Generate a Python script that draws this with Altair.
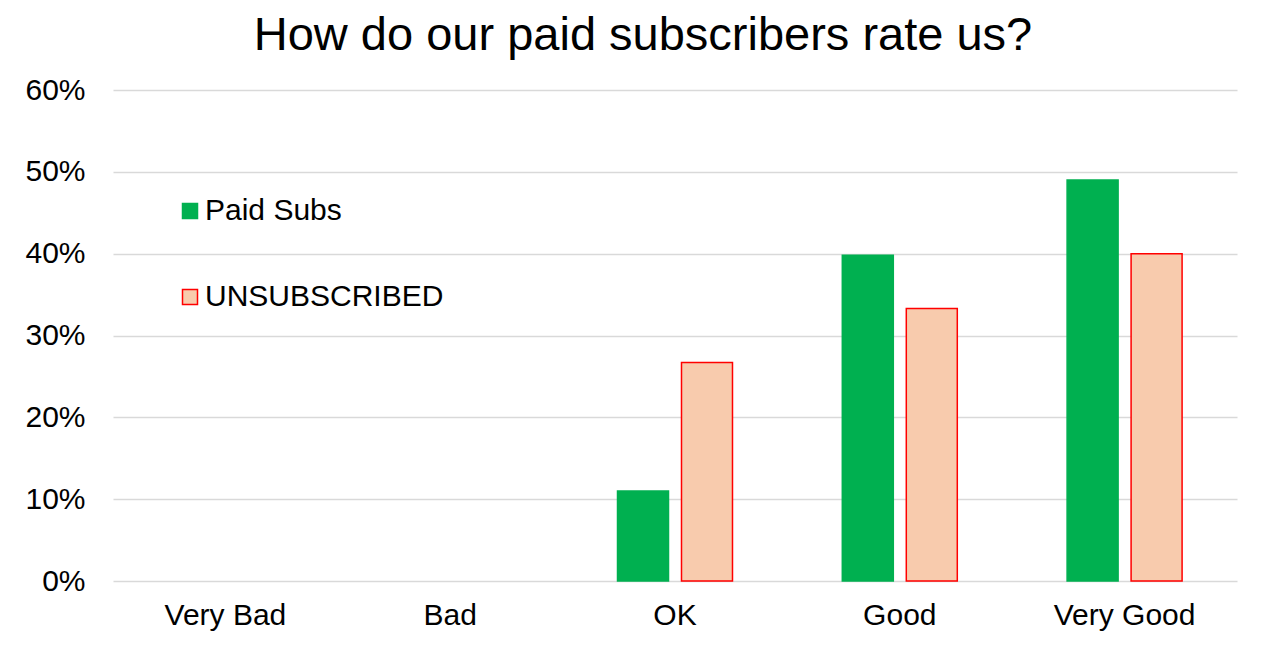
import altair as alt
import pandas as pd

categories = ["Very Bad", "Bad", "OK", "Good", "Very Good"]
series = ["Paid Subs", "UNSUBSCRIBED"]
paid_subs = [0.0, 0.0, 0.11, 0.398, 0.49]
unsubscribed = [0.0, 0.0, 0.267, 0.333, 0.40]

rows = []
for c, p, u in zip(categories, paid_subs, unsubscribed):
    rows.append({"rating": c, "series": series[0], "value": p})
    rows.append({"rating": c, "series": series[1], "value": u})
df = pd.DataFrame(rows)

FONT = "Liberation Sans"
LABEL_SIZE = 30

chart = alt.Chart(df).transform_filter(
    alt.datum.value > 0
).mark_bar(strokeWidth=1.5).encode(
    x=alt.X("rating:N", sort=categories, title=None,
            scale=alt.Scale(domain=categories, paddingInner=0, paddingOuter=0),
            axis=alt.Axis(labelAngle=0, labelFontSize=LABEL_SIZE, labelFont=FONT,
                          labelColor="#000000", domain=False, ticks=False,
                          labelPadding=19, grid=False)),
    xOffset=alt.XOffset("series:N", sort=series,
                        scale=alt.Scale(paddingInner=0.203, paddingOuter=0.858)),
    y=alt.Y("value:Q", title=None,
            scale=alt.Scale(domain=[0, 0.6]),
            axis=alt.Axis(format=".0%", values=[0, 0.1, 0.2, 0.3, 0.4, 0.5, 0.6],
                          labelFontSize=LABEL_SIZE, labelFont=FONT, labelColor="#000000",
                          domain=False, ticks=False, labelPadding=28,
                          minExtent=113, maxExtent=113,
                          gridColor="#d9d9d9", gridWidth=1.5)),
    fill=alt.Fill("series:N", sort=series,
                  scale=alt.Scale(domain=series, range=["#00B050", "#F8CBAD"]),
                  legend=alt.Legend(title=None, orient="none", legendX=62, legendY=106,
                                    labelFontSize=LABEL_SIZE, labelFont=FONT,
                                    labelColor="#000000", labelLimit=0,
                                    symbolType="square", symbolSize=225,
                                    symbolStrokeWidth=1.5, rowPadding=56,
                                    labelOffset=0)),
    stroke=alt.Stroke("series:N", sort=series,
                      scale=alt.Scale(domain=series, range=["#00B050", "#FF0000"]),
                      legend=None),
).properties(
    width=1124,
    height=491,
    title=alt.TitleParams("How do our paid subscribers rate us?", fontSize=47,
                          font=FONT, fontWeight="normal", color="#000000",
                          anchor="middle", frame="group", dx=-32, offset=15),
    padding={"left": 0, "top": 12, "right": 33, "bottom": 10},
).configure_view(stroke=None)

chart.save("out.html", embed_options={"renderer": "svg", "actions": False})
